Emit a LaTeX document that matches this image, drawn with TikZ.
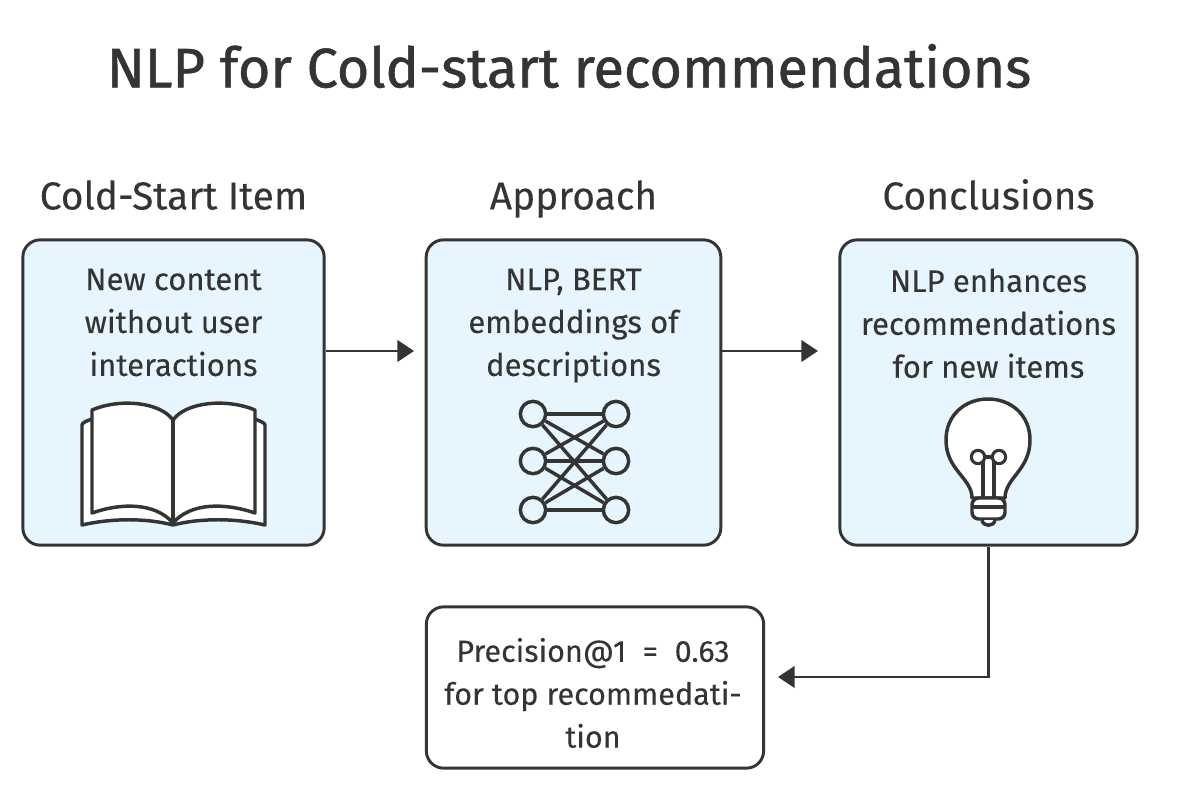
\documentclass[tikz,border=0pt]{standalone}
\usepackage{fontspec}
\setmainfont[FakeBold=0.15]{Fira Sans}
\newfontfamily\titlefont[FakeBold=1]{Fira Sans}
\usetikzlibrary{positioning, arrows.meta}
\definecolor{myink}{RGB}{52,52,52}
\definecolor{myblue}{RGB}{230,245,254}
\tikzset{
  card/.style={draw=myink, line width=2.2pt, rounded corners=13pt, fill=myblue, inner sep=0},
  cardtext/.style={color=myink, inner sep=0, align=center, font=\fontsize{23.3}{32.2}\selectfont},
  heading/.style={color=myink, inner sep=0, text height=20pt, text depth=6pt, font=\fontsize{29.2}{32}\selectfont},
  link/.style={draw=myink, line width=2.2pt, -{Triangle[width=16pt,length=12.5pt]}},
  icon/.style={draw=myink, line width=2.6pt, line join=round},
  neuron/.style={circle, draw=myink, line width=2.6pt, fill=myblue, minimum size=19pt, inner sep=0}
}
\begin{document}
\begin{tikzpicture}[x=0.75pt,y=-0.75pt]
\useasboundingbox (0,0) rectangle (1200,800);

\node [color=myink, inner sep=0, font=\titlefont\fontsize{41.8}{46}\selectfont] (title) at (569,66) {NLP for Cold-start recommendations};

% the three cards
\node [card, minimum width=226pt, minimum height=229pt] (cold) at (173.5,392.5) {};
\node [card, minimum width=221pt, minimum height=229pt] (approach) at (573.5,392.5) {};
\node [card, minimum width=223pt, minimum height=229pt] (concl) at (988.5,392.5) {};
\node [card, fill=white, minimum width=253pt, minimum height=121pt] (prec) at (595,687.5) {};

\node [heading, above=15.5pt of cold] (coldhead) {Cold-Start Item};
\node [heading, above=15.5pt of approach] (approachhead) {Approach};
\node [heading, above=15.5pt of concl] (conclhead) {Conclusions};

\node [cardtext, below=22.5pt of cold.north] (coldtext) {New content\\without user\\interactions};
\node [cardtext, below=22.5pt of approach.north] (approachtext) {NLP, BERT\\embeddings of\\descriptions};
\node [cardtext, below=22.5pt of concl.north] (concltext) {NLP enhances\\recommendations\\for new items};
\node [cardtext, font=\fontsize{22.9}{32.2}\selectfont] (prectext) at (593,693) {Precision@1 \;=\; 0.63\\for top recommedati-\\tion};

% connectors
\coordinate (tipa) at (414,351);
\coordinate (tipb) at (818,351);
\coordinate (tipc) at (778,677);
\draw [link] (cold.east |- tipa) -- (tipa);
\draw [link] (approach.east |- tipb) -- (tipb);
\draw [link] (concl.south) |- (tipc);

% book
\draw [icon, fill=white] (82,525) -- (82,425) .. controls (82,423) and (86,421) .. (92,419) -- (255,419) .. controls (260,421) and (265,423) .. (265,425) -- (265,525) .. controls (235,518) and (200,518) .. (173,525) .. controls (146,518) and (112,518) .. (82,525) -- cycle;
\draw [icon, fill=white] (173,420) .. controls (160,402) and (120,398) .. (92,410) -- (92,513) .. controls (120,503) and (155,502) .. (173,523) .. controls (191,502) and (226,503) .. (255,513) -- (255,410) .. controls (226,398) and (186,402) .. (173,420) -- cycle;
\draw [icon] (173,420) -- (173,525);

% network
\foreach \row/\y in {1/414,2/461,3/510} {
  \node [neuron] (l\row) at (533,\y) {};
  \node [neuron] (r\row) at (616,\y) {};
}
\foreach \a in {1,2,3} \foreach \b in {1,2,3}
  \draw [icon] (l\a) -- (r\b);

% bulb
\draw [icon, fill=white] (972,498) .. controls (972,478) and (946,470) .. (946,440) .. controls (946,415) and (965,399) .. (988,399) .. controls (1011,399) and (1030,415) .. (1030,440) .. controls (1030,470) and (1005,478) .. (1005,498) -- cycle;
\draw [icon, fill=white, rounded corners=5pt] (972,498) -- (972,519) -- (1005,519) -- (1005,498) -- cycle;
\draw [icon] (972,507) -- (1005,507);
\draw [icon, fill=white] (982,520) .. controls (983,527) and (994,527) .. (995,520);
\node [neuron, fill=white, minimum size=10pt, line width=2.3pt] (fila) at (978,457) {};
\node [neuron, fill=white, minimum size=10pt, line width=2.3pt] (filb) at (999,457) {};
\draw [icon] (fila.east) -- (filb.west);
\draw [icon] (983,461) -- (983,498);
\draw [icon] (994,461) -- (994,498);
\end{tikzpicture}
\end{document}
